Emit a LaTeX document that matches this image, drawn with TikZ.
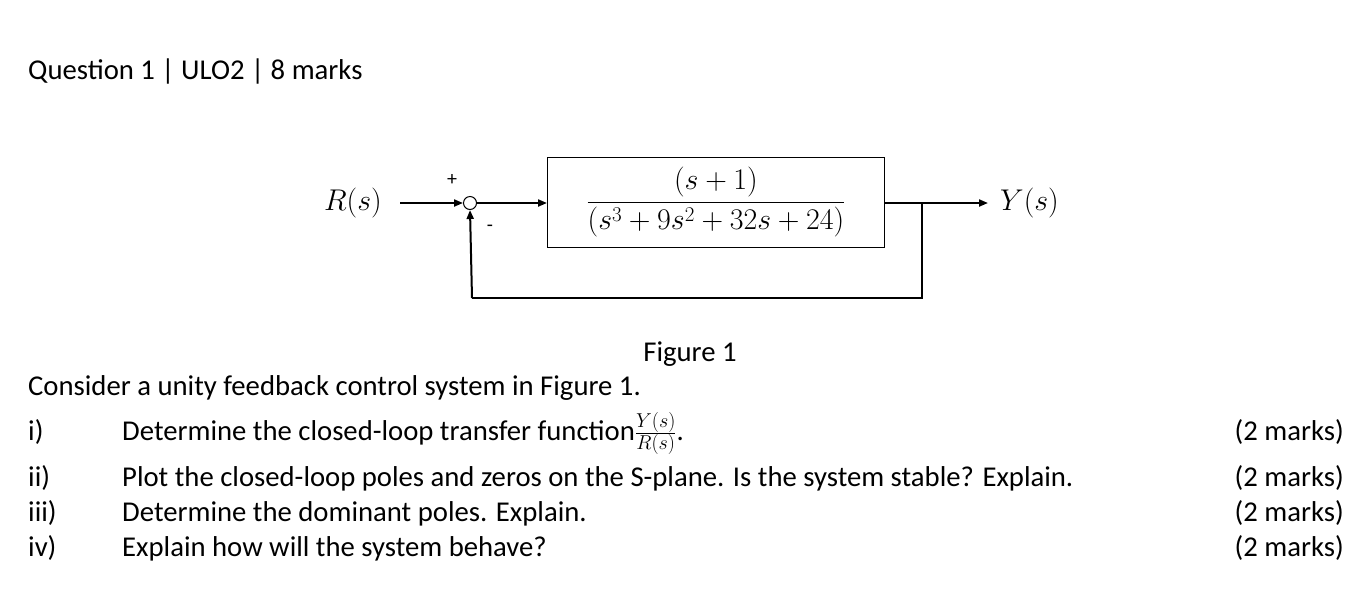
\RequirePackage{fix-cm}
\documentclass[tikz,border=0pt]{standalone}
\usepackage{fontspec}
\setmainfont{Carlito}
\usetikzlibrary{arrows.meta}
\begin{document}
\begin{tikzpicture}[x=1pt,y=-1pt,
  txt/.style={anchor=base west,inner sep=0,font=\fontsize{28.7}{32}\selectfont},
  mth/.style={inner sep=0,font=\fontsize{30}{34}\selectfont},
  sig/.style={line width=2pt,-{Triangle[length=9pt,width=7pt]}},
  wire/.style={line width=2pt}]
\useasboundingbox (0,0) rectangle (1372,606);
\node[txt] (q) at (28,79) {Question 1 | ULO2 | 8 marks};
\node[mth,anchor=east] (r) at (382,203) {$R(s)$};
\coordinate (rin) at (400,203);
\node[circle,draw,line width=1pt,minimum size=13pt,inner sep=0] (sum) at (470,203) {};
\node[font=\fontsize{20}{22}\selectfont] (plus) at (452,180) {+};
\node[font=\fontsize{20}{22}\selectfont] (minus) at (490,228) {-};
\node[draw,line width=1pt,minimum width=337pt,minimum height=90pt,anchor=west,inner sep=0] (g) at (547,202)
  {\fontsize{30}{36}\selectfont$\displaystyle\frac{(s+1)}{(s^3+9s^2+32s+24)}$};
\node[mth,anchor=west] (y) at (1000,203) {$Y(s)$};
\coordinate (yout) at (988,203);
\coordinate (br) at (922,203);
\coordinate (c1) at (922,298);
\coordinate (c2) at (472,298);
\draw[sig] (rin) -- (sum.west);
\draw[sig] (sum.east) -- (g.west |- sum.east);
\draw[sig] (g.east |- br) -- (yout);
\draw[wire] (br) -- (c1) -- (c2);
\draw[sig] (c2) -- (sum.south);
\node[txt,anchor=base] (fig) at (690,361) {Figure 1};
\node[txt] (c) at (28,395) {Consider a unity feedback control system in Figure 1.};
\node[txt] (n1) at (28,440) {i)};
\node[txt] (t1) at (122,440) {Determine the closed-loop transfer function$\frac{Y(s)}{R(s)}$.};
\node[txt,anchor=base east] (m1) at (1344,440) {(2 marks)};
\node[txt] (n2) at (28,486) {ii)};
\node[txt] (t2) at (122,486) {Plot the closed-loop poles and zeros on the S-plane. Is the system stable? Explain.};
\node[txt,anchor=base east] (m2) at (1344,486) {(2 marks)};
\node[txt] (n3) at (28,521) {iii)};
\node[txt] (t3) at (122,521) {Determine the dominant poles. Explain.};
\node[txt,anchor=base east] (m3) at (1344,521) {(2 marks)};
\node[txt] (n4) at (28,556) {iv)};
\node[txt] (t4) at (122,556) {Explain how will the system behave?};
\node[txt,anchor=base east] (m4) at (1344,556) {(2 marks)};
\end{tikzpicture}
\end{document}
